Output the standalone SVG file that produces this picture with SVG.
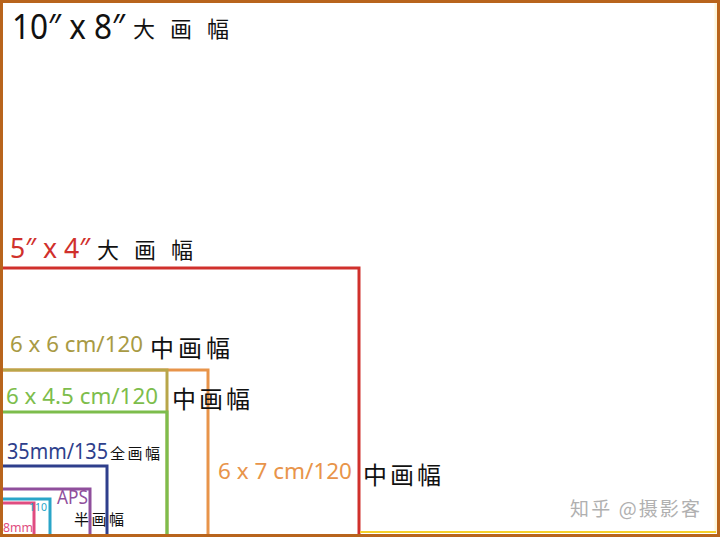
<svg xmlns="http://www.w3.org/2000/svg" width="720" height="537" viewBox="0 0 720 537">
<style>
.lat{font-family:"Noto Sans","Liberation Sans",sans-serif;}
.cjk{font-family:"Noto Sans CJK SC",sans-serif;fill:#111;}
.box{fill:none;stroke-width:3;}
</style>
<rect x="0" y="0" width="720" height="537" fill="#ffffff"/>
<line x1="716" y1="3" x2="716" y2="533" stroke="#fdf6da" stroke-width="3"/>
<g id="frames">
<g id="f5x4"><rect class="box" x="-10" y="268" width="369" height="300" stroke="#d0302c"/></g>
<g id="f6x7"><rect class="box" x="-10" y="370" width="218" height="200" stroke="#e8944a"/></g>
<g id="f6x6"><rect class="box" x="-10" y="370" width="177" height="200" stroke="#b8a64a"/></g>
<g id="f6x45"><rect class="box" x="-10" y="412" width="177" height="200" stroke="#7dbd4c"/></g>
<g id="f35"><rect class="box" x="-10" y="466" width="117" height="100" stroke="#2e3f8c"/></g>
<g id="faps"><rect class="box" x="-10" y="489" width="100" height="100" stroke="#8f4f9c"/></g>
<g id="f110"><rect class="box" x="-10" y="499" width="60" height="100" stroke="#2aa5c8"/></g>
<g id="f8"><rect class="box" x="-10" y="503" width="44" height="100" stroke="#e04c80"/></g>
</g>
<line x1="360" y1="532" x2="716" y2="532" stroke="#f5cf2a" stroke-width="2"/>
<rect x="1.5" y="1.5" width="717" height="534" fill="none" stroke="#b8641c" stroke-width="3"/>
<g id="labels">
<text class="lat" x="12" y="39" font-size="35" fill="#111" textLength="113" lengthAdjust="spacingAndGlyphs">10″ x 8″</text>
<text class="cjk" x="133" y="37" font-size="22" textLength="96" lengthAdjust="spacing">大 画 幅</text>
<text class="lat" x="10" y="258" font-size="28" fill="#d0302c" textLength="80" lengthAdjust="spacingAndGlyphs">5″ x 4″</text>
<text class="cjk" x="97" y="258" font-size="22" textLength="96" lengthAdjust="spacing">大 画 幅</text>
<text class="lat" x="10" y="352" font-size="22" fill="#a89a44" textLength="133" lengthAdjust="spacingAndGlyphs">6 x 6 cm/120</text>
<text class="cjk" x="150" y="357" font-size="24" textLength="80" lengthAdjust="spacing">中画幅</text>
<text class="lat" x="6" y="404" font-size="22" fill="#7dbd4c" textLength="152" lengthAdjust="spacingAndGlyphs">6 x 4.5 cm/120</text>
<text class="cjk" x="172" y="408" font-size="24" textLength="78" lengthAdjust="spacing">中画幅</text>
<text class="lat" x="7" y="459" font-size="21" fill="#2e3f8c" textLength="101" lengthAdjust="spacingAndGlyphs">35mm/135</text>
<text class="cjk" x="110" y="459" font-size="15" textLength="50" lengthAdjust="spacing">全画幅</text>
<text class="lat" x="57" y="504" font-size="19" fill="#8f4f9c" textLength="31" lengthAdjust="spacingAndGlyphs">APS</text>
<text class="lat" x="29" y="511" font-size="11" fill="#2aa5c8" textLength="18" lengthAdjust="spacingAndGlyphs">110</text>
<text class="lat" x="3" y="532" font-size="13" fill="#e04c80" textLength="30" lengthAdjust="spacingAndGlyphs">8mm</text>
<text class="cjk" x="74" y="525" font-size="15" textLength="50" lengthAdjust="spacing">半画幅</text>
<text class="lat" x="218" y="479" font-size="22" fill="#e8944a" textLength="134" lengthAdjust="spacingAndGlyphs">6 x 7 cm/120</text>
<text class="cjk" x="363" y="484" font-size="24" textLength="78" lengthAdjust="spacing">中画幅</text>
<text x="570" y="516" font-size="19" fill="#b0b0b0" font-family="Noto Sans CJK SC,sans-serif" textLength="130" lengthAdjust="spacing">知乎 @摄影客</text>
</g>
</svg>
